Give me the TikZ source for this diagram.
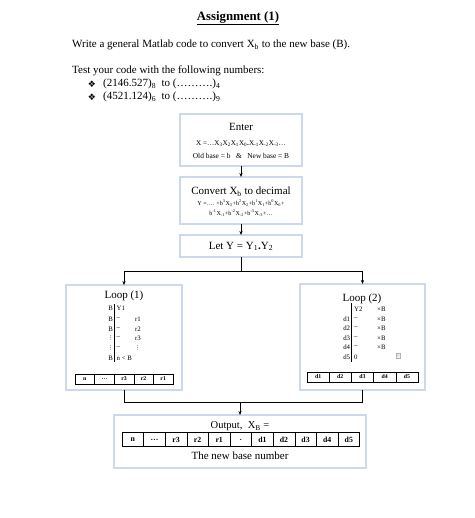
\documentclass[tikz,border=0pt]{standalone}
\usepackage{fontspec}
\setmainfont{Liberation Serif}
\newfontfamily\symfont{DejaVu Sans}
\usetikzlibrary{arrows.meta}
\definecolor{boxout}{RGB}{130,146,175}
\definecolor{boxin}{RGB}{205,216,236}
\newcommand\vdts{{\symfont\fontsize{5.5}{6}\selectfont ⋮}}
\tikzset{
  box/.style={draw=boxout, double=boxin, double distance=1.8pt, line width=0.5pt, fill=white, inner sep=0pt, outer sep=0pt},
  conn/.style={draw=black, line width=0.6pt},
  arr/.style={conn, -{Stealth[length=4pt,width=3.2pt]}},
  txt/.style={inner sep=0pt, font=\fontsize{11}{12}\selectfont},
  lbl/.style={inner sep=0pt, font=\fontsize{11}{13}\selectfont},
  tiny/.style={inner sep=0pt, font=\fontsize{6.8}{7}\selectfont},
  cella/.style={draw=black, line width=0.5pt, inner sep=0pt, font=\bfseries\fontsize{5.8}{6}\selectfont},
  cellb/.style={draw=black, line width=0.5pt, inner sep=0pt, font=\bfseries\fontsize{7.8}{8}\selectfont},
}
\begin{document}
\begin{tikzpicture}[x=1pt,y=-1pt]
\useasboundingbox (0,0) rectangle (474,518);
% heading
\node[inner sep=0pt, font=\bfseries\fontsize{12.8}{14}\selectfont] (title) at (238,18) {\underline{Assignment (1)}};
\node[txt, anchor=west] (task) at (72,45) {Write a general Matlab code to convert X\textsubscript{b} to the new base (B).};
\node[txt, anchor=west] (test) at (72,71) {Test your code with the following numbers:};
\node[inner sep=0pt, font=\symfont\fontsize{9}{9}\selectfont] (b1) at (92,84) {❖};
\node[inner sep=0pt, font=\symfont\fontsize{9}{9}\selectfont] (b2) at (92,97) {❖};
\node[txt, anchor=west] (n1) at (103,84) {(2146.527)\textsubscript{8}\ \ to (\ldots\ldots\ldots.)\textsubscript{4}};
\node[txt, anchor=west] (n2) at (103,97) {(4521.124)\textsubscript{6}\ \ to (\ldots\ldots\ldots.)\textsubscript{9}};
% boxes
\node[box, minimum width=122pt, minimum height=52pt] (enter) at (241,140) {};
\node[box, minimum width=122pt, minimum height=47pt] (convert) at (241,200.5) {};
\node[box, minimum width=122pt, minimum height=22pt] (let) at (241,246) {};
\node[box, minimum width=116pt, minimum height=105pt] (loop1) at (124,337.5) {};
\node[box, minimum width=125pt, minimum height=106pt] (loop2) at (362.5,337) {};
\node[box, minimum width=252pt, minimum height=53pt] (output) at (240,441.5) {};
% enter box text
\node[lbl] (entert) at (241,127) {Enter};
\node[inner sep=0pt, font=\fontsize{7.2}{8}\selectfont] (xline) at (241,144) {X =\ldots X\textsubscript{3}X\textsubscript{2}X\textsubscript{1}X\textsubscript{0}\textbf{.}X\textsubscript{-1}X\textsubscript{-2}X\textsubscript{-3}\ldots};
\node[inner sep=0pt, font=\fontsize{7.4}{8}\selectfont] (bases) at (241,156) {Old base = b\ \ \ \&\ \ \ New base = B};
% convert box text
\node[lbl] (convt) at (241,192) {Convert X\textsubscript{b} to decimal};
\node[inner sep=0pt, font=\fontsize{6.1}{7}\selectfont] (yl1) at (241,203) {Y =\ldots. +b\textsuperscript{3}X\textsubscript{3}+b\textsuperscript{2}X\textsubscript{2}+b\textsuperscript{1}X\textsubscript{1}+b\textsuperscript{0}X\textsubscript{0}+};
\node[inner sep=0pt, font=\fontsize{6.1}{7}\selectfont] (yl2) at (241,213) {b\textsuperscript{-1}X\textsubscript{-1}+b\textsuperscript{-2}X\textsubscript{-2}+b\textsuperscript{-3}X\textsubscript{-3}+\ldots};
% let box
\node[lbl] (lett) at (241,246.5) {Let Y = Y\textsubscript{1}\textbf{.}Y\textsubscript{2}};
% loop 1
\node[lbl] (l1t) at (124,296) {Loop (1)};
\draw[line width=0.5pt] (114.5,304) -- (114.5,362);
\foreach \y/\a/\b/\c [count=\i] in {308/B/Y1/, 319/B/--/r1, 329/B/--/r2, 338/\vdts/--/r3, 348/\vdts/--/\vdts, 358/B/{n < B}/}{
  \node[tiny, anchor=east] (l1a\i) at (113.2,\y) {\a};
  \node[tiny, anchor=west] (l1b\i) at (116.5,\y) {\b};
  \node[tiny, anchor=west] (l1c\i) at (135,\y) {\c};
}
\foreach \t [count=\i] in {n,\ldots,r3,r2,r1}
  \node[cella, minimum width=19.6pt, minimum height=10pt] (ta\i) at ({75+19.6*(\i-0.5)},379) {\t};
% loop 2
\node[lbl] (l2t) at (362,299) {Loop (2)};
\draw[line width=0.5pt] (351.5,303) -- (351.5,362);
\foreach \y/\a/\b/\c [count=\i] in {309//Y2/×B, 319/d1/--/×B, 328/d2/--/×B, 338/d3/--/×B, 347/d4/--/×B, 357/d5/0/}{
  \node[tiny, anchor=east] (l2a\i) at (350.3,\y) {\a};
  \node[tiny, anchor=west] (l2b\i) at (354,\y) {\b};
  \node[tiny, anchor=west] (l2c\i) at (377,\y) {\c};
}
\node[draw=gray!60, fill=gray!12, inner sep=0.5pt, minimum width=4pt, minimum height=5pt, font=\fontsize{4}{4}\selectfont] (icon) at (398,356) {-};
\foreach \t [count=\i] in {d1,d2,d3,d4,d5}
  \node[cella, minimum width=22.2pt, minimum height=10pt] (tb\i) at ({307+22.2*(\i-0.5)},377) {\t};
% output
\node[inner sep=0pt, font=\fontsize{10.5}{12}\selectfont] (outt) at (240,426) {Output,\ \ X\textsubscript{B} =};
\foreach \t [count=\i] in {n,\ldots,r3,r2,r1,.,d1,d2,d3,d4,d5}
  \node[cellb, minimum width=21.6pt, minimum height=14pt] (tc\i) at ({122+21.6*(\i-0.5)},439.5) {\t};
\node[lbl] (newb) at (240,456) {The new base number};
% connectors
\draw[arr] (enter.south) -- (convert.north);
\draw[arr] (convert.south) -- (let.north);
\coordinate (split) at (241,271);
\coordinate (join) at (240,402);
\draw[conn] (let.south) -- (split);
\draw[arr] (split) -| (loop1.north);
\draw[arr] (split) -| (loop2.north);
\draw[conn] (loop1.south) |- (join);
\draw[conn] (loop2.south) |- (join);
\draw[arr] (join) -- (output.north);
\end{tikzpicture}
\end{document}
